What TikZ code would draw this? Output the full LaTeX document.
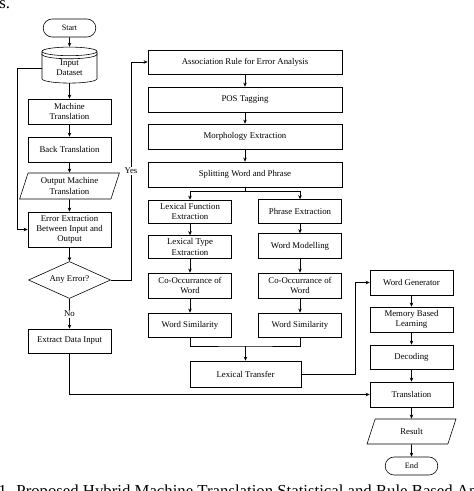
\documentclass[tikz,border=0pt]{standalone}
\usepackage{fontspec}
\setmainfont{Liberation Serif}
\usetikzlibrary{arrows.meta,shapes.geometric,shapes.misc}
\newlength\pxu
\setlength\pxu{0.03cm}
\begin{document}
\begin{tikzpicture}[x=0.03cm,y=-0.03cm,
    line width=0.5pt,
    >={Stealth[length=3.5pt,width=3pt]},
    every node/.style={font=\fontsize{7.5}{8.7}\selectfont},
    box/.style={draw,align=center,inner sep=1pt,minimum width=83\pxu,minimum height=25\pxu},
    widebox/.style={box,minimum width=194\pxu},
    term/.style={draw,rounded rectangle,inner sep=1pt,minimum width=55\pxu,minimum height=18\pxu,font=\fontsize{7}{8}\selectfont},
    io/.style={draw,trapezium,trapezium left angle=72,trapezium right angle=108,align=center,inner sep=1pt,minimum width=79\pxu,minimum height=26\pxu},
    db/.style={draw,cylinder,shape border rotate=90,aspect=0.3,align=center,inner sep=1pt,minimum width=55\pxu,minimum height=36\pxu},
    decision/.style={draw,diamond,aspect=2.2,inner sep=0pt,minimum width=82\pxu,minimum height=37\pxu},
    lbl/.style={fill=white,inner sep=1pt}]
    \useasboundingbox (0,0) rectangle (474,491);

    % left column
    \node[term] (start) at (69.5,28) {Start};
    \node[db] (input) at (69.5,68) {Input\\Dataset};
    \draw ([yshift=-2.5\pxu]input.before top) to[out=-90,in=-90,looseness=0.3] ([yshift=-2.5\pxu]input.after top);
    \node[box] (mt) at (69.5,111.5) {Machine\\Translation};
    \node[box] (bt) at (69.5,149.5) {Back Translation};
    \node[io] (omt) at (69.5,186) {Output Machine\\Translation};
    \node[box,minimum height=35\pxu] (ee) at (69.5,229.5) {Error Extraction\\Between Input and\\Output};
    \node[decision] (anyerr) at (69.5,280) {Any Error?};
    \node[box,minimum height=24\pxu] (edi) at (69.5,341) {Extract Data Input};

    % middle
    \node[widebox,minimum height=24\pxu] (assoc) at (245,62) {Association Rule for Error Analysis};
    \node[widebox] (pos) at (245,99.5) {POS Tagging};
    \node[widebox] (morph) at (245,136.5) {Morphology Extraction};
    \node[widebox] (split) at (245,174.5) {Splitting Word and Phrase};

    \node[box,minimum height=23\pxu] (lexfun) at (190,211.5) {Lexical Function\\Extraction};
    \node[box,minimum height=23\pxu] (lextype) at (190,247) {Lexical Type\\Extraction};
    \node[box] (coocl) at (190,285.5) {Co-Occurrance of\\Word};
    \node[box,minimum height=24\pxu] (siml) at (190,325) {Word Similarity};

    \node[box,minimum height=24\pxu] (phrase) at (300,211.5) {Phrase Extraction};
    \node[box] (wordmod) at (300,246) {Word Modelling};
    \node[box] (coocr) at (300,285.5) {Co-Occurrance of\\Word};
    \node[box,minimum height=24\pxu] (simr) at (300,325) {Word Similarity};

    \node[box,minimum width=111\pxu,minimum height=26\pxu] (lextrans) at (245.5,374) {Lexical Transfer};

    % right column
    \node[box] (wordgen) at (411.5,282.5) {Word Generator};
    \node[box] (mbl) at (411.5,319.5) {Memory Based\\Learning};
    \node[box,minimum height=24\pxu] (dec) at (411.5,357) {Decoding};
    \node[box] (trans) at (411.5,394.5) {Translation};
    \node[io,minimum width=83\pxu,minimum height=25\pxu] (result) at (411.5,431.5) {Result};
    \node[term] (end) at (411.5,466) {End};

    \foreach \a/\b in {start/input,input/mt,mt/bt,bt/omt,omt/ee,ee/anyerr,
      assoc/pos,pos/morph,morph/split,
      lexfun/lextype,lextype/coocl,coocl/siml,
      phrase/wordmod,wordmod/coocr,coocr/simr,
      wordgen/mbl,mbl/dec,dec/trans,trans/result,result/end}
    {
      \path (\a) edge[->] (\b);
    };

    \path (anyerr) edge[->] node[lbl] {No} (edi);
    \draw[->] (input.west) -- ++(-24,0) |- (ee.west);
    \coordinate (yesturn) at (131,280);
    \draw[->] (anyerr.east) -- (yesturn) |- node[lbl,pos=0.25] {Yes} (assoc.west);

    \draw[->] (split.south) -- ++(0,4) -| (lexfun.north);
    \draw[->] (split.south) -- ++(0,4) -| (phrase.north);
    \coordinate (merge) at (245.5,346);
    \draw (siml.south) |- (merge) -| (simr.south);
    \path (merge) edge[->] (lextrans.north);

    \draw[->] (lextrans.east) -- ++(54,0) |- (wordgen.west);
    \draw[->] (edi.south) |- (trans.west);

    % cut text of the page
    \node[anchor=base west,inner sep=0pt,font=\fontsize{14.3}{16}\selectfont] (prev) at (-1,8) {s.};
    \node[anchor=base west,inner sep=0pt,font=\fontsize{14.3}{16}\selectfont] (caption) at (-2,496) {1. Proposed Hybrid Machine Translation Statistical and Rule Based Approach};
  \end{tikzpicture}
\end{document}
